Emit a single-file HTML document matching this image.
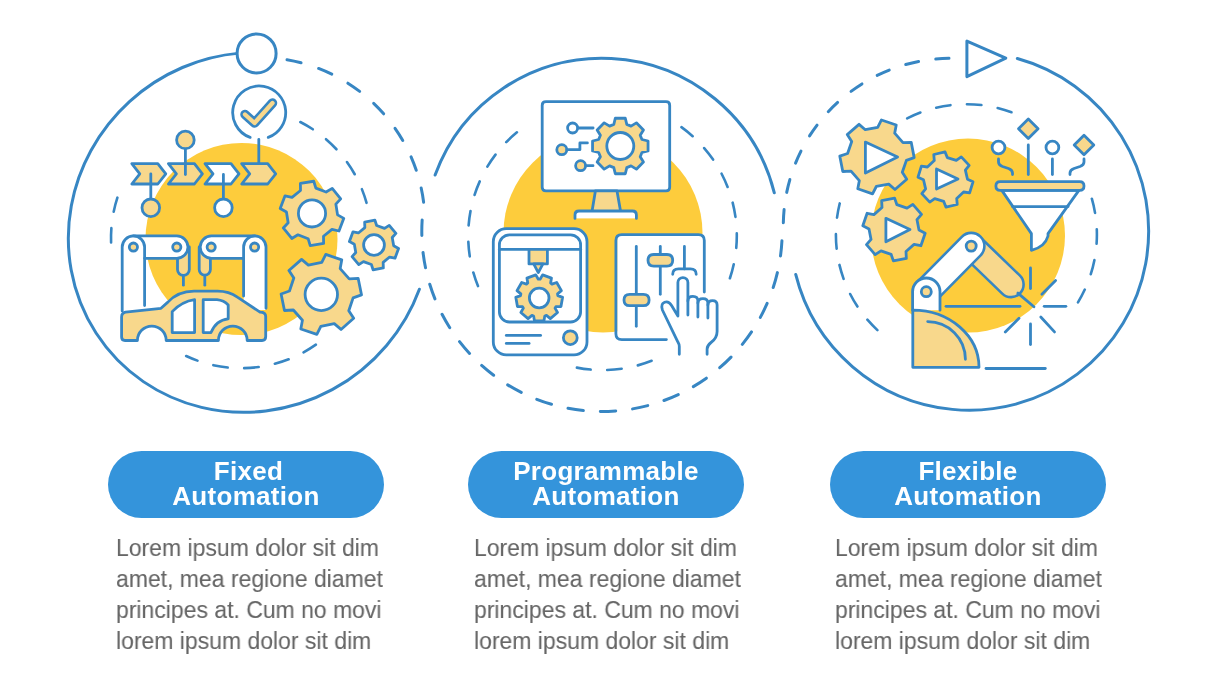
<!DOCTYPE html>
<html><head><meta charset="utf-8">
<style>
html,body{margin:0;padding:0;background:#fff;}
body{width:1216px;height:700px;position:relative;overflow:hidden;font-family:"Liberation Sans",sans-serif;}
svg{position:absolute;left:0;top:0;}
.pill{position:absolute;top:451.2px;height:67.4px;width:276px;border-radius:34px;background:#3494db;will-change:transform;}
.pt{position:absolute;left:0;width:100%;text-align:center;color:#fff;font-weight:bold;font-size:26px;letter-spacing:0.3px;white-space:nowrap;}
.body{position:absolute;top:532.2px;color:#666666;font-size:24.6px;line-height:31.1px;white-space:nowrap;transform:scaleX(0.934);transform-origin:0 0;-webkit-text-stroke:0.1px #666;will-change:transform;}
</style></head><body>
<svg width="1216" height="700" viewBox="0 0 1216 700">
<circle cx="241.5" cy="239" r="96" fill="#fdcc3c"/>
<circle cx="603" cy="233" r="99.5" fill="#fdcc3c"/>
<circle cx="968" cy="235.6" r="97" fill="#fdcc3c"/>
<path d="M419.39,289.21 A177.48,183.58 50.74 0 1 71.31,205.73 A177.48,183.58 50.74 0 1 239.47,53.12" fill="none" stroke="#3786c3" stroke-width="3" stroke-linecap="round"/>
<path d="M285.54,59.54 A166,166 0 0 1 423.76,203.17" fill="none" stroke="#3786c3" stroke-width="3" stroke-linecap="round" stroke-dasharray="14.4 18.4" stroke-dashoffset="-1.5"/>
<path d="M435.11,175.06 A177.6,177.6 0 0 1 774.32,192.83" fill="none" stroke="#3786c3" stroke-width="3" stroke-linecap="round"/>
<path d="M781.95,240.73 A180.2,180.2 0 0 1 423.14,253.26 A180.2,180.2 0 0 1 422.49,215.59" fill="none" stroke="#3786c3" stroke-width="3" stroke-linecap="round" stroke-dasharray="15.5 17" stroke-dashoffset="0.25"/>
<path d="M1017.36,58.51 A179.1,179.1 0 0 1 952.33,409.38 A179.1,179.1 0 0 1 795.72,274.43" fill="none" stroke="#3786c3" stroke-width="3" stroke-linecap="round"/>
<path d="M783.30,226.00 A167.7,167.7 0 0 1 951.00,58.30" fill="none" stroke="#3786c3" stroke-width="3" stroke-linecap="round" stroke-dasharray="13.2 17.4" stroke-dashoffset="-3.26"/>
<path d="M300.31,121.99 A130.2,130.2 0 0 1 366.96,204.30" fill="none" stroke="#3786c3" stroke-width="2.6" stroke-linecap="round" stroke-dasharray="14.5 16.5" stroke-dashoffset="0"/>
<path d="M315.88,344.65 A130.2,130.2 0 0 1 186.18,356.00" fill="none" stroke="#3786c3" stroke-width="2.6" stroke-linecap="round" stroke-dasharray="14.5 16.5" stroke-dashoffset="0"/>
<path d="M111.08,242.54 A130.2,130.2 0 0 1 119.65,191.34" fill="none" stroke="#3786c3" stroke-width="2.6" stroke-linecap="round" stroke-dasharray="14.5 16.5" stroke-dashoffset="0"/>
<path d="M681.44,127.15 A134.3,134.3 0 0 1 728.70,281.73" fill="none" stroke="#3786c3" stroke-width="2.6" stroke-linecap="round" stroke-dasharray="14.5 16.5" stroke-dashoffset="0"/>
<path d="M657.12,358.49 A134.3,134.3 0 0 1 576.87,367.63" fill="none" stroke="#3786c3" stroke-width="2.6" stroke-linecap="round" stroke-dasharray="14.5 16.5" stroke-dashoffset="-6"/>
<path d="M477.98,286.11 A134.3,134.3 0 0 1 519.82,129.97" fill="none" stroke="#3786c3" stroke-width="2.6" stroke-linecap="round" stroke-dasharray="14.5 16.5" stroke-dashoffset="0"/>
<path d="M907.15,118.42 A130.5,130.5 0 0 1 1012.10,112.46" fill="none" stroke="#3786c3" stroke-width="2.6" stroke-linecap="round" stroke-dasharray="14.5 16.5" stroke-dashoffset="0"/>
<path d="M1091.84,198.73 A130.5,130.5 0 0 1 1074.59,307.67" fill="none" stroke="#3786c3" stroke-width="2.6" stroke-linecap="round" stroke-dasharray="14.5 16.5" stroke-dashoffset="0"/>
<path d="M877.40,330.14 A130.5,130.5 0 0 1 839.78,203.13" fill="none" stroke="#3786c3" stroke-width="2.6" stroke-linecap="round" stroke-dasharray="14.5 16.5" stroke-dashoffset="0"/>
<circle cx="256.6" cy="53.4" r="19.5" fill="#ffffff" stroke="#3786c3" stroke-width="3"/>
<path d="M250.14,137.40 A26.5,26.5 0 0 1 263.80,86.40 A26.5,26.5 0 0 1 268.26,137.40" fill="none" stroke="#3786c3" stroke-width="2.8" stroke-linecap="round"/>
<line x1="258.8" y1="139.5" x2="258.8" y2="163.7" stroke="#3786c3" stroke-width="2.8" stroke-linecap="round"/>
<polyline points="245,114.5 254.5,123 272.5,103" fill="none" stroke="#3786c3" stroke-width="9.5" stroke-linecap="round" stroke-linejoin="round"/>
<polyline points="245,114.5 254.5,123 272.5,103" fill="none" stroke="#f8d88c" stroke-width="4.3" stroke-linecap="round" stroke-linejoin="round"/>
<path d="M131.8,163.7 L157.8,163.7 L165.8,173.85 L157.8,184.0 L131.8,184.0 L139.8,173.85 Z" fill="#f8d88c" stroke="#3786c3" stroke-width="2.8" stroke-linejoin="round" stroke-linecap="round" />
<path d="M168.4,163.7 L194.4,163.7 L202.4,173.85 L194.4,184.0 L168.4,184.0 L176.4,173.85 Z" fill="#f8d88c" stroke="#3786c3" stroke-width="2.8" stroke-linejoin="round" stroke-linecap="round" />
<path d="M205.0,163.7 L231.0,163.7 L239.0,173.85 L231.0,184.0 L205.0,184.0 L213.0,173.85 Z" fill="#ffffff" stroke="#3786c3" stroke-width="2.8" stroke-linejoin="round" stroke-linecap="round" />
<path d="M241.7,163.7 L267.7,163.7 L275.7,173.85 L267.7,184.0 L241.7,184.0 L249.7,173.85 Z" fill="#f8d88c" stroke="#3786c3" stroke-width="2.8" stroke-linejoin="round" stroke-linecap="round" />
<line x1="150.8" y1="173.8" x2="150.8" y2="199" stroke="#3786c3" stroke-width="2.8" stroke-linecap="round"/>
<circle cx="150.8" cy="207.8" r="8.8" fill="#f8d88c" stroke="#3786c3" stroke-width="2.8"/>
<line x1="185.4" y1="149.4" x2="185.4" y2="174.5" stroke="#3786c3" stroke-width="2.8" stroke-linecap="round"/>
<circle cx="185.4" cy="139.9" r="8.8" fill="#f8d88c" stroke="#3786c3" stroke-width="2.8"/>
<line x1="223.4" y1="174.5" x2="223.4" y2="199" stroke="#3786c3" stroke-width="2.8" stroke-linecap="round"/>
<circle cx="223.4" cy="207.8" r="8.8" fill="#ffffff" stroke="#3786c3" stroke-width="2.8"/>
<path d="M300.50,190.53 L300.40,183.36 L313.75,181.25 L315.87,188.09 L326.06,192.01 L332.21,188.33 L340.72,198.84 L335.85,204.09 L337.56,214.88 L343.81,218.37 L338.97,231.00 L331.98,229.40 L323.50,236.27 L323.60,243.44 L310.25,245.55 L308.13,238.71 L297.94,234.79 L291.79,238.47 L283.28,227.96 L288.15,222.71 L286.44,211.92 L280.19,208.43 L285.03,195.80 L292.02,197.40Z" fill="#f8d88c" stroke="#3786c3" stroke-width="2.8" stroke-linejoin="round"/>
<circle cx="312" cy="213.4" r="13.6" fill="#fff" stroke="#3786c3" stroke-width="2.8"/>
<path d="M364.84,227.56 L364.66,222.03 L374.92,220.22 L376.64,225.48 L384.53,228.35 L389.23,225.42 L395.92,233.40 L392.23,237.52 L393.68,245.79 L398.57,248.40 L395.00,258.19 L389.59,257.05 L383.16,262.44 L383.34,267.97 L373.08,269.78 L371.36,264.52 L363.47,261.65 L358.77,264.58 L352.08,256.60 L355.77,252.48 L354.32,244.21 L349.43,241.60 L353.00,231.81 L358.41,232.95Z" fill="#f8d88c" stroke="#3786c3" stroke-width="2.8" stroke-linejoin="round"/>
<circle cx="374" cy="245" r="10.4" fill="#fff" stroke="#3786c3" stroke-width="2.8"/>
<path d="M321.77,262.40 L325.77,254.45 L341.78,259.81 L340.18,268.56 L349.24,278.81 L358.13,278.29 L361.50,294.84 L353.12,297.83 L348.78,310.80 L353.67,318.24 L341.02,329.43 L334.23,323.67 L320.83,326.40 L316.83,334.35 L300.82,328.99 L302.42,320.24 L293.36,309.99 L284.47,310.51 L281.10,293.96 L289.48,290.97 L293.82,278.00 L288.93,270.56 L301.58,259.37 L308.37,265.13Z" fill="#f8d88c" stroke="#3786c3" stroke-width="2.8" stroke-linejoin="round"/>
<circle cx="321.3" cy="294.4" r="16.2" fill="#fff" stroke="#3786c3" stroke-width="2.8"/>
<path d="M177.5,247 V269.5 A5.9,5.9 0 0 0 189.3,269.5 V247 Z" fill="#f8d88c" stroke="#3786c3" stroke-width="2.8" stroke-linejoin="round" stroke-linecap="round" />
<path d="M210.4,247 V269.5 A5.6,5.6 0 0 1 199.2,269.5 V247 Z" fill="#f8d88c" stroke="#3786c3" stroke-width="2.8" stroke-linejoin="round" stroke-linecap="round" />
<path d="M122.2,310.9 V247.1 A11.2,11.2 0 0 1 133.4,235.9 H176.8 A11.2,11.2 0 0 1 176.8,258.3 H144.6 V310 H122.2Z" fill="#fff"/>
<path d="M122.2,310.9 V247.1 A11.2,11.2 0 0 1 133.4,235.9 H176.8 A11.2,11.2 0 0 1 176.8,258.3 H144.6 V305.6" fill="none" stroke="#3786c3" stroke-width="2.8" stroke-linejoin="round" stroke-linecap="round" />
<path d="M144.6,258.3 V247.1 A11.2,11.2 0 0 0 133.4,235.9" fill="none" stroke="#3786c3" stroke-width="2.8" stroke-linejoin="round" stroke-linecap="round" />
<line x1="183.4" y1="275.4" x2="183.4" y2="285.2" stroke="#3786c3" stroke-width="2.8" stroke-linecap="round"/>
<circle cx="133.4" cy="247.1" r="4.1" fill="#f8d88c" stroke="#3786c3" stroke-width="2.8"/>
<circle cx="176.8" cy="247.1" r="4.1" fill="#f8d88c" stroke="#3786c3" stroke-width="2.8"/>
<path d="M266,308.3 V247.1 A11.2,11.2 0 0 0 254.8,235.9 H211.4 A11.2,11.2 0 0 0 211.4,258.3 H243.6 V310 H266Z" fill="#fff"/>
<path d="M266,308.3 V247.1 A11.2,11.2 0 0 0 254.8,235.9 H211.4 A11.2,11.2 0 0 0 211.4,258.3 H243.6 V296" fill="none" stroke="#3786c3" stroke-width="2.8" stroke-linejoin="round" stroke-linecap="round" />
<path d="M243.6,258.3 V247.1 A11.2,11.2 0 0 1 254.8,235.9" fill="none" stroke="#3786c3" stroke-width="2.8" stroke-linejoin="round" stroke-linecap="round" />
<line x1="204.8" y1="275.4" x2="204.8" y2="285.2" stroke="#3786c3" stroke-width="2.8" stroke-linecap="round"/>
<circle cx="211.2" cy="247.1" r="4.1" fill="#f8d88c" stroke="#3786c3" stroke-width="2.8"/>
<circle cx="254.6" cy="247.1" r="4.1" fill="#f8d88c" stroke="#3786c3" stroke-width="2.8"/>
<path d="M125,340.5 H137.4 A14.4,14.4 0 0 1 166.2,340.5 H218.4 A14.4,14.4 0 0 1 247.2,340.5 H262 Q265.7,340.5 265.7,336.5 V316.5 Q265.7,312.2 260,312.2 L237.4,297.1 Q229,291.2 217.6,291.2 H194 Q178,291.2 167.6,302.4 L161,308.3 L125.5,312.2 Q121.6,313 121.6,317 V337 Q121.6,340.5 125,340.5 Z" fill="#f8d88c" stroke="#3786c3" stroke-width="2.8" stroke-linejoin="round" stroke-linecap="round" />
<path d="M172.2,332.6 V311.6 Q182,301.5 194.6,299.7 V332.6 Z" fill="#ffffff" stroke="#3786c3" stroke-width="2.8" stroke-linejoin="round" stroke-linecap="round" />
<path d="M203.2,332.6 V299.7 H217 Q224,300.5 228.2,305 V318.8 Q216,320 211,332.6 Z" fill="#ffffff" stroke="#3786c3" stroke-width="2.8" stroke-linejoin="round" stroke-linecap="round" />
<path d="M546,101.7 H666 Q669.7,101.7 669.7,105.4 V187.2 Q669.7,190.9 666,190.9 H546 Q542.2,190.9 542.2,187.2 V105.4 Q542.2,101.7 546,101.7 Z" fill="#ffffff" stroke="#3786c3" stroke-width="2.8" stroke-linejoin="round" stroke-linecap="round" />
<path d="M595.4,190.9 L592,211.4 H620.6 L617,190.9 Z" fill="#f8d88c" stroke="#3786c3" stroke-width="2.8" stroke-linejoin="round" stroke-linecap="round" />
<rect x="575" y="211" width="61.6" height="7.4" fill="#fff"/>
<path d="M575,218.4 V215 Q575,211 579,211 H632.4 Q636.4,211 636.4,215 V218.4" fill="none" stroke="#3786c3" stroke-width="2.8" stroke-linejoin="round" stroke-linecap="round" />
<path d="M613.80,124.35 L615.30,118.25 L625.30,118.25 L626.80,124.35 L631.01,126.10 L636.39,122.84 L643.46,129.91 L640.20,135.29 L641.95,139.50 L648.05,141.00 L648.05,151.00 L641.95,152.50 L640.20,156.71 L643.46,162.09 L636.39,169.16 L631.01,165.90 L626.80,167.65 L625.30,173.75 L615.30,173.75 L613.80,167.65 L609.59,165.90 L604.21,169.16 L597.14,162.09 L600.40,156.71 L598.65,152.50 L592.55,151.00 L592.55,141.00 L598.65,139.50 L600.40,135.29 L597.14,129.91 L604.21,122.84 L609.59,126.10Z" fill="#f8d88c" stroke="#3786c3" stroke-width="2.8" stroke-linejoin="round"/>
<circle cx="620.3" cy="146" r="13.5" fill="#fff" stroke="#3786c3" stroke-width="2.8"/>
<circle cx="572.6" cy="128" r="5" fill="#ffffff" stroke="#3786c3" stroke-width="2.8"/>
<line x1="578.3" y1="128" x2="593.1" y2="128" stroke="#3786c3" stroke-width="2.8" stroke-linecap="round"/>
<circle cx="561.8" cy="149.7" r="5" fill="#f8d88c" stroke="#3786c3" stroke-width="2.8"/>
<path d="M566.9,149.7 H579.9 V142.9 H587.4" fill="none" stroke="#3786c3" stroke-width="2.8" stroke-linejoin="round" stroke-linecap="round" />
<circle cx="580.6" cy="165.7" r="5" fill="#f8d88c" stroke="#3786c3" stroke-width="2.8"/>
<line x1="585.8" y1="165.7" x2="593" y2="165.7" stroke="#3786c3" stroke-width="2.8" stroke-linecap="round"/>
<path d="M506.3,228.7 H574 A13,13 0 0 1 587,241.7 V341.9 A13,13 0 0 1 574,354.9 H506.3 A13,13 0 0 1 493.3,341.9 V241.7 A13,13 0 0 1 506.3,228.7 Z" fill="#ffffff" stroke="#3786c3" stroke-width="2.8" stroke-linejoin="round" stroke-linecap="round" />
<path d="M509.4,234.9 H570.6 A10,10 0 0 1 580.6,244.9 V312 A10,10 0 0 1 570.6,322 H509.4 A10,10 0 0 1 499.4,312 V244.9 A10,10 0 0 1 509.4,234.9 Z" fill="#ffffff" stroke="#3786c3" stroke-width="2.8" stroke-linejoin="round" stroke-linecap="round" />
<line x1="499.4" y1="249.3" x2="580.6" y2="249.3" stroke="#3786c3" stroke-width="2.8" stroke-linecap="round"/>
<path d="M529,249.3 H547.4 V263.9 H529 Z" fill="#f8d88c" stroke="#3786c3" stroke-width="2.8" stroke-linejoin="round" stroke-linecap="round" />
<path d="M533.7,263.9 H542.9 L538.3,272.6 Z" fill="#f8d88c" stroke="#3786c3" stroke-width="2.8" stroke-linejoin="round" stroke-linecap="round" />
<path d="M544.80,315.95 L543.90,320.92 L534.50,320.92 L533.60,315.95 L531.95,315.35 L528.07,318.58 L520.86,312.54 L523.37,308.15 L522.50,306.63 L517.44,306.61 L515.81,297.35 L520.55,295.60 L520.86,293.88 L517.00,290.61 L521.70,282.47 L526.46,284.18 L527.80,283.05 L526.94,278.07 L535.78,274.85 L538.32,279.22 L540.08,279.22 L542.62,274.85 L551.46,278.07 L550.60,283.05 L551.94,284.18 L556.70,282.47 L561.40,290.61 L557.54,293.88 L557.85,295.60 L562.59,297.35 L560.96,306.61 L555.90,306.63 L555.03,308.15 L557.54,312.54 L550.33,318.58 L546.45,315.35Z" fill="#f8d88c" stroke="#3786c3" stroke-width="2.8" stroke-linejoin="round"/>
<circle cx="539.2" cy="298" r="9.8" fill="#fff" stroke="#3786c3" stroke-width="2.8"/>
<line x1="506.3" y1="335.4" x2="540.6" y2="335.4" stroke="#3786c3" stroke-width="2.8" stroke-linecap="round"/>
<line x1="506.3" y1="343.4" x2="529.1" y2="343.4" stroke="#3786c3" stroke-width="2.8" stroke-linecap="round"/>
<circle cx="570.3" cy="337.7" r="6.9" fill="#f8d88c" stroke="#3786c3" stroke-width="2.8"/>
<rect x="617.3" y="235.9" width="85.7" height="102.8" fill="#fff"/>
<path d="M666.4,339.6 H621.8 Q615.9,339.6 615.9,333.7 V240.5 Q615.9,234.6 621.8,234.6 H698.4 Q704.3,234.6 704.3,240.5 V292" fill="none" stroke="#3786c3" stroke-width="2.8" stroke-linejoin="round" stroke-linecap="round" />
<line x1="636.3" y1="246.4" x2="636.3" y2="326.3" stroke="#3786c3" stroke-width="2.8" stroke-linecap="round"/>
<line x1="660.3" y1="246.4" x2="660.3" y2="294.3" stroke="#3786c3" stroke-width="2.8" stroke-linecap="round"/>
<line x1="684.4" y1="246.4" x2="684.4" y2="268.9" stroke="#3786c3" stroke-width="2.8" stroke-linecap="round"/>
<path d="M629.7,294.3 H643.4 Q649.1,294.3 649.1,300 Q649.1,305.7 643.4,305.7 H629.7 Q624,305.7 624,300 Q624,294.3 629.7,294.3 Z" fill="#f8d88c" stroke="#3786c3" stroke-width="2.8" stroke-linejoin="round" stroke-linecap="round" />
<path d="M653.8,254.5 H666.9 Q672.7,254.5 672.7,260.35 Q672.7,266.2 666.9,266.2 H653.8 Q648,266.2 648,260.35 Q648,254.5 653.8,254.5 Z" fill="#f8d88c" stroke="#3786c3" stroke-width="2.8" stroke-linejoin="round" stroke-linecap="round" />
<path d="M672.7,274.3 Q672.7,268.9 678.5,268.9 H690.4 Q696.2,268.9 696.2,274.3" fill="none" stroke="#3786c3" stroke-width="2.8" stroke-linejoin="round" stroke-linecap="round" />
<path d="M679.3,356 V346.5 Q679.3,344.3 677.8,341.8 L662.4,310 Q660.4,304 664.6,302.3 Q668.5,300.8 671.4,305.2 L677.9,316 V282.6 A5,5 0 0 1 687.9,282.6 V300 Q688,296.4 692.9,296.4 Q697.9,296.4 697.9,301 Q698,298.6 702.9,298.6 Q707.9,298.6 707.9,303 Q708,300.7 712.5,300.7 Q717.1,300.7 717.1,305 V331.4 Q717.1,338 711,342.5 Q707.1,345.5 707.1,349 V356 Z" fill="#fff"/>
<path d="M679.3,354.3 V346.5 Q679.3,344.3 677.8,341.8 L662.4,310 Q660.4,304 664.6,302.3 Q668.5,300.8 671.4,305.2 L677.9,316 V282.6 A5,5 0 0 1 687.9,282.6 V315" fill="none" stroke="#3786c3" stroke-width="2.8" stroke-linejoin="round" stroke-linecap="round" />
<path d="M687.9,301 Q688,296.4 692.9,296.4 Q697.9,296.4 697.9,301 V317" fill="none" stroke="#3786c3" stroke-width="2.8" stroke-linejoin="round" stroke-linecap="round" />
<path d="M697.9,303 Q698,298.6 702.9,298.6 Q707.9,298.6 707.9,303 V318" fill="none" stroke="#3786c3" stroke-width="2.8" stroke-linejoin="round" stroke-linecap="round" />
<path d="M707.9,305 Q708,300.7 712.5,300.7 Q717.1,300.7 717.1,305 V331.4 Q717.1,338 711,342.5 Q707.1,345.5 707.1,349 V354.3" fill="none" stroke="#3786c3" stroke-width="2.8" stroke-linejoin="round" stroke-linecap="round" />
<path d="M966.9,41.1 L1005.8,58.1 L966.9,76.6 Z" fill="#ffffff" stroke="#3786c3" stroke-width="3" stroke-linejoin="round" stroke-linecap="round" />
<path d="M877.69,127.31 L881.45,119.97 L896.23,125.05 L894.68,133.16 L902.97,142.70 L911.21,142.29 L914.19,157.63 L906.40,160.34 L902.28,172.29 L906.76,179.22 L894.97,189.47 L888.72,184.08 L876.31,186.49 L872.55,193.83 L857.77,188.75 L859.32,180.64 L851.03,171.10 L842.79,171.51 L839.81,156.17 L847.60,153.46 L851.72,141.51 L847.24,134.58 L859.03,124.33 L865.28,129.72Z" fill="#f8d88c" stroke="#3786c3" stroke-width="2.8" stroke-linejoin="round"/>
<path d="M865.4,142.1 L897.6,156.9 L865.4,173 Z" fill="#ffffff" stroke="#3786c3" stroke-width="2.8" stroke-linejoin="round" stroke-linecap="round" />
<path d="M934.29,160.57 L933.78,154.51 L945.08,151.90 L947.28,157.57 L956.29,160.33 L961.28,156.86 L969.19,165.34 L965.38,170.08 L967.50,179.26 L973.00,181.85 L969.61,192.93 L963.60,192.00 L956.71,198.43 L957.22,204.49 L945.92,207.10 L943.72,201.43 L934.71,198.67 L929.72,202.14 L921.81,193.66 L925.62,188.92 L923.50,179.74 L918.00,177.15 L921.39,166.07 L927.40,167.00Z" fill="#f8d88c" stroke="#3786c3" stroke-width="2.8" stroke-linejoin="round"/>
<path d="M936.5,169 L958,179 L936.5,189 Z" fill="#ffffff" stroke="#3786c3" stroke-width="2.8" stroke-linejoin="round" stroke-linecap="round" />
<path d="M882.01,207.56 L881.67,200.62 L894.62,198.11 L896.90,204.67 L907.00,208.15 L912.84,204.38 L921.50,214.34 L916.95,219.59 L918.99,230.09 L925.17,233.26 L920.88,245.73 L914.06,244.43 L905.99,251.44 L906.33,258.38 L893.38,260.89 L891.10,254.33 L881.00,250.85 L875.16,254.62 L866.50,244.66 L871.05,239.41 L869.01,228.91 L862.83,225.74 L867.12,213.27 L873.94,214.57Z" fill="#f8d88c" stroke="#3786c3" stroke-width="2.8" stroke-linejoin="round"/>
<path d="M885.9,218.3 L910,229.5 L885.9,241.8 Z" fill="#ffffff" stroke="#3786c3" stroke-width="2.8" stroke-linejoin="round" stroke-linecap="round" />
<path d="M1028.3,119 L1038.1,128.8 L1028.3,138.6 L1018.5,128.8 Z" fill="#f8d88c" stroke="#3786c3" stroke-width="2.8" stroke-linejoin="round" stroke-linecap="round" />
<line x1="1028.3" y1="145" x2="1028.3" y2="174.5" stroke="#3786c3" stroke-width="2.8" stroke-linecap="round"/>
<path d="M1084,135.2 L1093.8,145 L1084,154.8 L1074.2,145 Z" fill="#f8d88c" stroke="#3786c3" stroke-width="2.8" stroke-linejoin="round" stroke-linecap="round" />
<path d="M1084,159 V162 Q1084,165 1080,166.5 L1074,168.5 Q1070,170 1070,173 V174.5" fill="none" stroke="#3786c3" stroke-width="2.8" stroke-linejoin="round" stroke-linecap="round" />
<circle cx="998.5" cy="147.5" r="6.4" fill="#ffffff" stroke="#3786c3" stroke-width="2.8"/>
<path d="M998.5,159 V162 Q998.5,165 1002.5,166.5 L1008.5,168.5 Q1012.5,170 1012.5,173 V174.5" fill="none" stroke="#3786c3" stroke-width="2.8" stroke-linejoin="round" stroke-linecap="round" />
<circle cx="1052.4" cy="147.5" r="6.4" fill="#ffffff" stroke="#3786c3" stroke-width="2.8"/>
<line x1="1052.4" y1="159" x2="1052.4" y2="174.5" stroke="#3786c3" stroke-width="2.8" stroke-linecap="round"/>
<path d="M1001.8,190.4 L1031.4,233.6 V250.3 Q1045,247 1048,236 V233.6 L1078.9,190.4 Z" fill="#ffffff" stroke="#3786c3" stroke-width="2.8" stroke-linejoin="round" stroke-linecap="round" />
<line x1="1012.5" y1="206.6" x2="1068" y2="206.6" stroke="#3786c3" stroke-width="2.8" stroke-linecap="round"/>
<path d="M1000.2,181.7 H1079.6 Q1084,181.7 1084,186 Q1084,190.4 1079.6,190.4 H1000.2 Q995.9,190.4 995.9,186 Q995.9,181.7 1000.2,181.7 Z" fill="#f8d88c" stroke="#3786c3" stroke-width="2.8" stroke-linejoin="round" stroke-linecap="round" />
<line x1="971.2" y1="246.1" x2="1011" y2="284.5" stroke="#3786c3" stroke-width="27.8" stroke-linecap="round"/>
<line x1="971.2" y1="246.1" x2="1011" y2="284.5" stroke="#f8d88c" stroke-width="22.6" stroke-linecap="round"/>
<line x1="1017.9" y1="293.1" x2="1033.9" y2="306.8" stroke="#3786c3" stroke-width="2.8" stroke-linecap="round"/>
<line x1="926.3" y1="291.7" x2="971.2" y2="246.1" stroke="#3786c3" stroke-width="29" stroke-linecap="round"/>
<line x1="926.3" y1="291.7" x2="971.2" y2="246.1" stroke="#fff" stroke-width="23.8" stroke-linecap="round"/>
<path d="M912.6,310.2 V291.7 A13.7,13.7 0 0 1 940,291.7 V310.2" fill="#ffffff" stroke="#3786c3" stroke-width="2.8" stroke-linejoin="round" stroke-linecap="round" />
<circle cx="926.3" cy="291.7" r="5" fill="#f8d88c" stroke="#3786c3" stroke-width="2.8"/>
<circle cx="971.2" cy="246.1" r="5" fill="#f8d88c" stroke="#3786c3" stroke-width="2.8"/>
<line x1="946" y1="306.3" x2="1020" y2="306.3" stroke="#3786c3" stroke-width="2.8" stroke-linecap="round"/>
<path d="M912.8,367.3 V310.2 A66.2,57.1 0 0 1 979,367.3 Z" fill="#f8d88c" stroke="#3786c3" stroke-width="2.8" stroke-linejoin="round" stroke-linecap="round" />
<path d="M927.7,321.6 A37.7,37.7 0 0 1 965.4,359.3" fill="none" stroke="#3786c3" stroke-width="2.8" stroke-linejoin="round" stroke-linecap="round" />
<line x1="986" y1="368.5" x2="1045.3" y2="368.5" stroke="#3786c3" stroke-width="2.8" stroke-linecap="round"/>
<line x1="1030.5" y1="268" x2="1030.5" y2="288.5" stroke="#3786c3" stroke-width="2.8" stroke-linecap="round"/>
<line x1="1030.5" y1="324" x2="1030.5" y2="344.5" stroke="#3786c3" stroke-width="2.8" stroke-linecap="round"/>
<line x1="1044.2" y1="306.3" x2="1065.9" y2="306.3" stroke="#3786c3" stroke-width="2.8" stroke-linecap="round"/>
<line x1="1041.9" y1="294.2" x2="1055.6" y2="280.5" stroke="#3786c3" stroke-width="2.8" stroke-linecap="round"/>
<line x1="1040.8" y1="317" x2="1054.5" y2="331.9" stroke="#3786c3" stroke-width="2.8" stroke-linecap="round"/>
<line x1="1005.3" y1="331.9" x2="1019" y2="318.2" stroke="#3786c3" stroke-width="2.8" stroke-linecap="round"/>
</svg>
<div class="pill" style="left:108px"><div class="pt" style="top:5px;padding-left:5px;box-sizing:border-box">Fixed</div><div class="pt" style="top:30px">Automation</div></div>
<div class="pill" style="left:468px"><div class="pt" style="top:5px">Programmable</div><div class="pt" style="top:30px">Automation</div></div>
<div class="pill" style="left:829.5px"><div class="pt" style="top:5px">Flexible</div><div class="pt" style="top:30px">Automation</div></div>
<div class="body" style="left:115.5px">Lorem ipsum dolor sit dim<br>amet, mea regione diamet<br>principes at. Cum no movi<br>lorem ipsum dolor sit dim</div>
<div class="body" style="left:473.5px">Lorem ipsum dolor sit dim<br>amet, mea regione diamet<br>principes at. Cum no movi<br>lorem ipsum dolor sit dim</div>
<div class="body" style="left:835px">Lorem ipsum dolor sit dim<br>amet, mea regione diamet<br>principes at. Cum no movi<br>lorem ipsum dolor sit dim</div>
</body></html>
